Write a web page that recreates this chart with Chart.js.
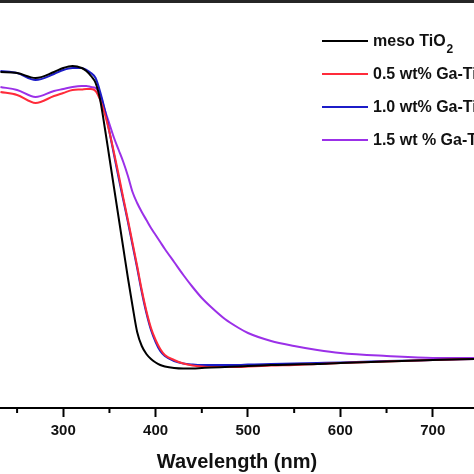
<!DOCTYPE html>
<html>
<head>
<meta charset="utf-8">
<script src="https://cdn.jsdelivr.net/npm/chart.js@4/dist/chart.umd.min.js"></script>
<style>
  html, body { margin: 0; padding: 0; background: #ffffff; }
  #wrap { width: 474px; height: 474px; }
</style>
</head>
<body>
<div id="wrap"><canvas id="c" width="474" height="474"></canvas></div>
<script>
// Wavelength (nm)
const wavelengths = [232, 250, 270, 290, 300, 310, 320, 325, 330, 335, 340, 345, 350, 355, 360, 365, 370, 375, 380, 385, 390, 395, 400, 405, 410, 420, 430, 440, 450, 460, 475, 490, 500, 525, 550, 575, 600, 650, 700, 745];

// Absorbance (a.u.)
const mesoTiO2 = [3.36, 3.35, 3.30, 3.36, 3.40, 3.42, 3.40, 3.37, 3.32, 3.25, 3.08, 2.80, 2.50, 2.20, 1.90, 1.60, 1.30, 1.02, 0.76, 0.62, 0.54, 0.49, 0.455, 0.43, 0.415, 0.40, 0.395, 0.395, 0.40, 0.405, 0.41, 0.415, 0.42, 0.43, 0.435, 0.44, 0.45, 0.465, 0.48, 0.49];
const ga05 = [3.16, 3.13, 3.05, 3.12, 3.15, 3.18, 3.185, 3.19, 3.19, 3.17, 3.08, 2.94, 2.76, 2.55, 2.33, 2.10, 1.88, 1.65, 1.42, 1.18, 0.97, 0.80, 0.68, 0.59, 0.53, 0.48, 0.445, 0.425, 0.415, 0.41, 0.41, 0.41, 0.415, 0.425, 0.43, 0.44, 0.45, 0.465, 0.48, 0.49];
const ga10 = [3.37, 3.35, 3.28, 3.34, 3.38, 3.40, 3.40, 3.38, 3.35, 3.30, 3.16, 2.98, 2.76, 2.53, 2.30, 2.08, 1.86, 1.63, 1.40, 1.16, 0.95, 0.78, 0.66, 0.57, 0.52, 0.47, 0.445, 0.435, 0.43, 0.43, 0.43, 0.43, 0.435, 0.44, 0.445, 0.45, 0.455, 0.47, 0.48, 0.49];
const ga15 = [3.21, 3.18, 3.11, 3.17, 3.19, 3.21, 3.22, 3.22, 3.21, 3.20, 3.13, 2.98, 2.84, 2.70, 2.58, 2.46, 2.32, 2.16, 2.05, 1.96, 1.88, 1.80, 1.73, 1.66, 1.59, 1.46, 1.33, 1.21, 1.10, 1.01, 0.89, 0.80, 0.75, 0.67, 0.62, 0.58, 0.55, 0.52, 0.50, 0.50];

const seriesNames = ['meso TiO', '0.5 wt% Ga-TiO', '1.0 wt% Ga-TiO', '1.5 wt % Ga-TiO'];
const seriesSub = ['2', '2', '2', '2'];
const seriesValues = [mesoTiO2, ga05, ga10, ga15];
const seriesColors = ['#000000', '#ff2b3a', '#1c1cc8', '#9b30e8'];

const majorTicks = [300, 400, 500, 600, 700];
const minorTicks = [250, 350, 450, 550, 650];

const FONT = "'Liberation Sans', Arial, sans-serif";

const datasets = seriesValues.map((vals, i) => ({
  label: seriesNames[i] + seriesSub[i],
  data: wavelengths.map((w, k) => ({ x: w, y: vals[k] })),
  borderColor: seriesColors[i],
  backgroundColor: seriesColors[i],
  borderWidth: 2,
  pointRadius: 0,
  pointHoverRadius: 0,
  cubicInterpolationMode: 'monotone',
  fill: false
}));

const extras = {
  id: 'extras',
  afterDraw(chart) {
    const ctx = chart.ctx;
    const xs = chart.scales.x;
    const area = chart.chartArea;
    ctx.save();
    // top frame
    ctx.strokeStyle = '#262626';
    ctx.lineWidth = 3;
    ctx.beginPath();
    ctx.moveTo(0, 1.5);
    ctx.lineTo(chart.width, 1.5);
    ctx.stroke();
    // minor ticks
    ctx.strokeStyle = '#000';
    ctx.lineWidth = 2;
    minorTicks.forEach(v => {
      const px = xs.getPixelForValue(v);
      ctx.beginPath();
      ctx.moveTo(px, area.bottom);
      ctx.lineTo(px, area.bottom + 5);
      ctx.stroke();
    });
    // legend
    chart.data.datasets.forEach((ds, i) => {
      const y = 41 + i * 33;
      ctx.strokeStyle = ds.borderColor;
      ctx.lineWidth = 2;
      ctx.beginPath();
      ctx.moveTo(322, y);
      ctx.lineTo(368, y);
      ctx.stroke();
      ctx.fillStyle = '#111';
      ctx.textBaseline = 'middle';
      ctx.textAlign = 'left';
      ctx.font = 'bold 16px ' + FONT;
      ctx.fillText(seriesNames[i], 373, y + 1);
      const w = ctx.measureText(seriesNames[i]).width;
      ctx.font = 'bold 12px ' + FONT;
      ctx.fillText(seriesSub[i], 373 + w + 1, y + 9);
    });
    ctx.restore();
  }
};

new Chart(document.getElementById('c'), {
  type: 'line',
  data: { datasets },
  options: {
    responsive: false,
    animation: false,
    devicePixelRatio: 1,
    layout: { autoPadding: false, padding: { left: 0, right: 0, top: 0, bottom: 0 } },
    plugins: { legend: { display: false }, tooltip: { enabled: false } },
    scales: {
      x: {
        type: 'linear',
        min: 231.5,
        max: 744.7,
        afterBuildTicks: (scale) => { scale.ticks = majorTicks.map(v => ({ value: v })); },
        ticks: {
          color: '#111',
          font: { family: FONT, size: 15, weight: 'bold' },
          padding: 5,
          maxRotation: 0,
          autoSkip: false,
          includeBounds: false
        },
        grid: {
          display: true,
          drawOnChartArea: false,
          drawTicks: true,
          tickLength: 9,
          tickWidth: 2,
          tickColor: '#000'
        },
        border: { display: true, color: '#000', width: 2 },
        title: {
          display: true,
          text: 'Wavelength (nm)',
          color: '#111',
          font: { family: FONT, size: 20, weight: 'bold' },
          padding: { top: 5, bottom: 0 }
        }
      },
      y: {
        type: 'linear',
        display: false,
        min: 0,
        max: 4.08
      }
    }
  },
  plugins: [extras]
});
</script>
</body>
</html>
